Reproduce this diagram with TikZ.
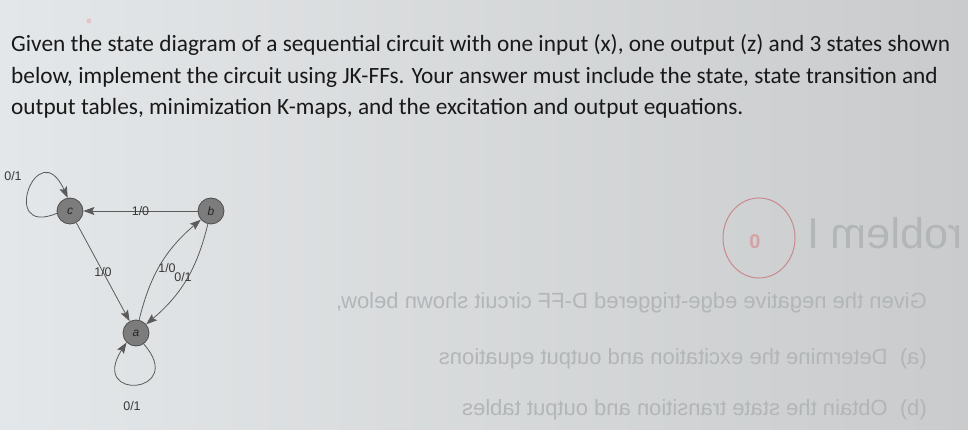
\documentclass[tikz,border=0pt]{standalone}
\usepackage{fontspec}
\setmainfont{Carlito}
\newfontfamily\lblfont{Liberation Sans}
\usetikzlibrary{arrows.meta}
\definecolor{paperA}{HTML}{E4E7E9}
\definecolor{paperB}{HTML}{C9CBCC}
\definecolor{nodefill}{HTML}{7C7C7C}
\definecolor{nodeborder}{HTML}{4E4E4E}
\definecolor{edgecol}{HTML}{5A5A5A}
\definecolor{ghostcol}{HTML}{B3B6B8}
\definecolor{penred}{HTML}{C98A8E}
\begin{document}
\begin{tikzpicture}[x=1pt,y=-1pt,
  state/.style={circle, draw=nodeborder, fill=nodefill, line width=0.8pt, minimum size=26pt, inner sep=0pt, font=\lblfont\itshape\fontsize{12}{12}\selectfont, text=black!85},
  trans/.style={draw=edgecol, line width=0.8pt, -{Stealth[length=11pt,width=8pt,inset=2pt]}},
  elabel/.style={font=\lblfont\fontsize{12.5}{12.5}\selectfont, text=black!78, inner sep=1pt},
  qtext/.style={anchor=base west, font=\fontsize{23.3}{28}\selectfont, text=black!90, inner sep=0pt},
  ghost/.style={font=\lblfont\fontsize{22}{22}\selectfont, text=ghostcol, xscale=-1, anchor=base west, inner sep=0pt}
]
\useasboundingbox (0,0) rectangle (968,430);
\shade[left color=paperA, right color=paperB] (0,0) rectangle (968,430);

% faint show-through from the back of the sheet (mirrored)
\node[ghost, anchor=base east, font=\lblfont\fontsize{43}{43}\selectfont] (g0) at (807,248) {roblem I};
\node[ghost] (g1) at (927,308) {Given the negative edge-triggered D-FF circuit shown below,};
\node[ghost] (g2) at (927,364) {(a)\ \ Determine the excitation and output equations};
\node[ghost] (g3) at (927,415) {(b)\ \ Obtain the state transition and output tables};
\draw[penred, line width=1pt] (759,238) ellipse [x radius=36, y radius=40];
\node[text=penred!80, font=\lblfont\bfseries\fontsize{20}{20}\selectfont] (mark) at (755,242) {0};
\fill[penred!50] (89,21) circle (2.5);

% question text
\node[qtext] (l1) at (11,51.5) {Given the state diagram of a sequential circuit with one input (x), one output (z) and 3 states shown};
\node[qtext] (l2) at (11,83.2) {below, implement the circuit using JK-FFs. Your answer must include the state, state transition and};
\node[qtext] (l3) at (11,114.8) {output tables, minimization K-maps, and the excitation and output equations.};

% states
\node[state] (c) at (70,211) {c};
\node[state] (b) at (211,211) {b};
\node[state] (a) at (136,333) {a};

% transitions
\draw[trans] (b) -- node[elabel] {1/0} (c);
\draw[trans] (c) -- node[elabel] {1/0} (a);
\draw[trans] (a) to[bend left=18] (b);
\draw[trans] (b) to[bend left=18] (a);
\draw[trans] (c.190) .. controls (-2,238) and (38,132) .. (c.100);
\draw[trans] (a.305) .. controls (188,394) and (88,402) .. (a.225);

% labels
\node[elabel] (lab1) at (167,268) {1/0};
\node[elabel] (lab2) at (183,277) {0/1};
\node[elabel] (lab3) at (13,176) {0/1};
\node[elabel] (lab4) at (132,406) {0/1};
\end{tikzpicture}
\end{document}
